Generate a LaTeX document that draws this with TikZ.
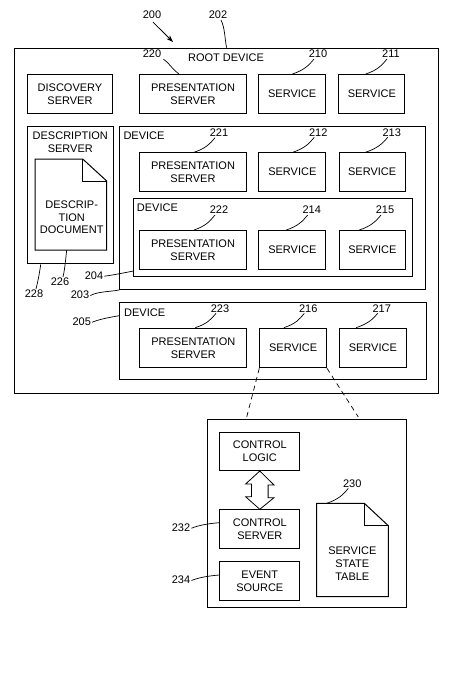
\documentclass[tikz,border=0pt]{standalone}
\usepackage{fontspec}
\setmainfont{Liberation Sans}
\usetikzlibrary{arrows.meta}
\begin{document}
\begin{tikzpicture}[x=1pt,y=-1pt,
  box/.style={draw, line width=1pt, anchor=north west, inner sep=0pt, align=center, font=\fontsize{11}{13}\selectfont},
  lbl/.style={inner sep=0pt, font=\fontsize{11}{12.5}\selectfont},
  lead/.style={line width=0.7pt},
  docshape/.style={draw, line width=1pt, line join=miter}]
\useasboundingbox (0,0) rectangle (474,675);

% root
\node[box, minimum width=424.2pt, minimum height=345pt] (root) at (13.5,47.7) {};
\node[lbl] (roottxt) at (226,58) {ROOT DEVICE};
\node[lbl] (l200) at (152,15) {200};
\node[lbl] (l202) at (218,15) {202};
\coordinate (a200) at (173,42);
\draw[line width=0.8pt, -{Stealth[length=7pt,width=5pt]}] (l200.south) ++(1,3) -- (a200);
\draw[lead] ([xshift=3pt,yshift=-1pt]l202.south) .. controls +(4,8) and +(-2,-10) .. ([xshift=0.5pt]root.north);

\node[box, minimum width=85.6pt, minimum height=38.7pt] (disc) at (26.7,74) {DISCOVERY\\SERVER};
\node[box, minimum width=106.4pt, minimum height=38.7pt] (p220) at (139.3,74) {PRESENTATION\\SERVER};
\node[box, minimum width=66.7pt, minimum height=38.7pt] (s210) at (258.3,74) {SERVICE};
\node[box, minimum width=66pt, minimum height=38.7pt] (s211) at (338.3,74) {SERVICE};
\node[lbl] (l220) at (152,54) {220};
\node[lbl] (l210) at (318,54) {210};
\node[lbl] (l211) at (391,54) {211};
\draw[lead] ([xshift=2pt,yshift=-1pt]l220.south east) .. controls +(6,4) and +(-8,-6) .. ([xshift=-14pt]p220.north);
\draw[lead] ([xshift=-4pt,yshift=-1pt]l210.south) .. controls +(-5,6) and +(12,-4) .. ([xshift=0.3pt]s210.north);
\draw[lead] ([xshift=-4pt,yshift=-1pt]l211.south) .. controls +(-5,6) and +(12,-4) .. ([xshift=-6pt]s211.north);

% description server
\node[box, minimum width=86pt, minimum height=137.3pt] (desc) at (27.3,126) {};
\node[lbl, align=center, font=\fontsize{11}{13}\selectfont] (desctxt) at (70.3,142.5) {DESCRIPTION\\SERVER};
\coordinate (d1) at (35,159);
\draw[docshape] (d1) -- (82.7,159) -- (106.7,181) -- (106.7,250) -- (35,250) -- cycle;
\draw[docshape] (82.7,159) -- (82.7,181) -- (106.7,181);
\node[lbl, align=center, font=\fontsize{11}{12.5}\selectfont] (doctxt) at (71.7,217.5) {DESCRIP-\\TION\\DOCUMENT};
\coordinate (docbot) at (66.7,250);
\node[lbl] (l226) at (60,282) {226};
\node[lbl] (l228) at (34,294) {228};
\draw[lead] ([xshift=3pt,yshift=1pt]l226.north) .. controls +(2,-8) and +(-1,8) .. (docbot);
\draw[lead] ([xshift=2pt,yshift=1pt]l228.north) .. controls +(2,-8) and +(-1,8) .. ([xshift=13.4pt]desc.south west);

% device 203
\node[box, minimum width=305.7pt, minimum height=163pt] (d203) at (119.3,126) {};
\node[lbl, anchor=west] (d203txt) at (123.3,135.7) {DEVICE};
\node[box, minimum width=106.4pt, minimum height=38.7pt] (p221) at (139.3,152.3) {PRESENTATION\\SERVER};
\node[box, minimum width=67pt, minimum height=38.7pt] (s212) at (258.3,152.3) {SERVICE};
\node[box, minimum width=66pt, minimum height=38.7pt] (s213) at (338.7,152.3) {SERVICE};
\node[lbl] (l221) at (219,132.7) {221};
\node[lbl] (l212) at (318.3,132.3) {212};
\node[lbl] (l213) at (391.7,132.3) {213};
\draw[lead] ([xshift=-4pt,yshift=-1pt]l221.south) .. controls +(-5,6) and +(12,-4) .. ([xshift=1pt]p221.north);
\draw[lead] ([xshift=-4pt,yshift=-1pt]l212.south) .. controls +(-5,6) and +(12,-4) .. ([xshift=0.5pt]s212.north);
\draw[lead] ([xshift=-4pt,yshift=-1pt]l213.south) .. controls +(-5,6) and +(12,-4) .. ([xshift=-6.7pt]s213.north);

% device 204
\node[box, minimum width=278.4pt, minimum height=78.3pt] (d204) at (133.3,197.7) {};
\node[lbl, anchor=west] (d204txt) at (136.7,207.3) {DEVICE};
\node[box, minimum width=106.4pt, minimum height=39.3pt] (p222) at (139.3,230) {PRESENTATION\\SERVER};
\node[box, minimum width=67pt, minimum height=39.3pt] (s214) at (258.3,230) {SERVICE};
\node[box, minimum width=66.3pt, minimum height=39.3pt] (s215) at (338.7,230) {SERVICE};
\node[lbl] (l222) at (219,210) {222};
\node[lbl] (l214) at (311.7,210) {214};
\node[lbl] (l215) at (385,210) {215};
\draw[lead] ([xshift=-4pt,yshift=-1pt]l222.south) .. controls +(-5,6) and +(12,-4) .. ([xshift=1pt]p222.north);
\draw[lead] ([xshift=-4pt,yshift=-1pt]l214.south) .. controls +(-5,6) and +(12,-4) .. ([xshift=-6pt]s214.north);
\draw[lead] ([xshift=-4pt,yshift=-1pt]l215.south) .. controls +(-5,6) and +(12,-4) .. ([xshift=-13pt]s215.north);

\node[lbl] (l204) at (94,275.7) {204};
\node[lbl] (l203) at (80,295) {203};
\draw[lead] ([xshift=1pt,yshift=-0.5pt]l204.east) .. controls +(8,-1) and +(-10,2) .. ([yshift=6pt]d204.south west);
\draw[lead] ([xshift=1pt,yshift=-0.5pt]l203.east) .. controls +(8,-4) and +(-12,2) .. (d203.south west);

% device 205
\node[box, minimum width=306.4pt, minimum height=77pt] (d205) at (119.3,302.3) {};
\node[lbl, anchor=west] (d205txt) at (124,312.3) {DEVICE};
\node[box, minimum width=107pt, minimum height=39.6pt] (p223) at (139.3,327.7) {PRESENTATION\\SERVER};
\node[box, minimum width=66.7pt, minimum height=39.6pt] (s216) at (259.3,327.7) {SERVICE};
\node[box, minimum width=66.7pt, minimum height=39.6pt] (s217) at (339,327.7) {SERVICE};
\node[lbl] (l223) at (220,308.3) {223};
\node[lbl] (l216) at (308.3,308.3) {216};
\node[lbl] (l217) at (381.7,308.3) {217};
\node[lbl] (l205) at (81.7,321.7) {205};
\draw[lead] ([xshift=-4pt,yshift=-1pt]l223.south) .. controls +(-5,6) and +(12,-4) .. ([xshift=2pt]p223.north);
\draw[lead] ([xshift=-4pt,yshift=-1pt]l216.south) .. controls +(-5,6) and +(12,-4) .. ([xshift=-9.3pt]s216.north);
\draw[lead] ([xshift=-4pt,yshift=-1pt]l217.south) .. controls +(-5,6) and +(12,-4) .. ([xshift=-16.8pt]s217.north);
\draw[lead] ([xshift=1pt,yshift=-0.5pt]l205.east) .. controls +(8,-3) and +(-12,2) .. ([yshift=-13.4pt]d205.north west);

% detail box
\node[box, minimum width=199pt, minimum height=187.7pt] (det) at (206.7,419) {};
\coordinate (dl) at (246.7,417);
\coordinate (dr) at (358.3,417);
\draw[line width=0.7pt, dash pattern=on 5pt off 4pt] (s216.south west) -- (dl);
\draw[line width=0.7pt, dash pattern=on 5pt off 4pt] (s216.south east) -- (dr);

\node[box, minimum width=80pt, minimum height=38.3pt] (clog) at (219.3,431.7) {CONTROL\\LOGIC};
\node[box, minimum width=80pt, minimum height=39pt] (csrv) at (219.3,509.3) {CONTROL\\SERVER};
\node[box, minimum width=80pt, minimum height=39pt] (esrc) at (219.3,561) {EVENT\\SOURCE};
\draw[line width=0.8pt, line join=miter] (clog.south) -- ++(14.2,14) -- ++(-5.9,0) -- ++(0,12.7) -- ++(5.9,0) -- (csrv.north) -- ++(-14.2,-12.6) -- ++(5.9,0) -- ++(0,-12.7) -- ++(-5.9,0) -- cycle;

\draw[docshape] (316.7,503.3) -- (364.3,503.3) -- (388.3,525.7) -- (388.3,596.7) -- (316.7,596.7) -- cycle;
\draw[docshape] (364.3,503.3) -- (364.3,525.7) -- (388.3,525.7);
\node[lbl, align=center, font=\fontsize{11}{12.8}\selectfont] (sst) at (352.3,563.8) {SERVICE\\STATE\\TABLE};
\coordinate (sstop) at (326.7,503.3);
\node[lbl] (l230) at (352.3,483.3) {230};
\node[lbl] (l232) at (181,527.7) {232};
\node[lbl] (l234) at (181,580) {234};
\draw[lead] ([xshift=-4pt,yshift=-1pt]l230.south) .. controls +(-5,6) and +(12,-4) .. (sstop);
\draw[lead] ([xshift=1pt,yshift=-0.5pt]l232.east) .. controls +(8,-3) and +(-12,1) .. ([yshift=-13.4pt]csrv.north west);
\draw[lead] ([xshift=1pt,yshift=-0.5pt]l234.east) .. controls +(8,-3) and +(-12,1) .. ([yshift=-14pt]esrc.north west);
\end{tikzpicture}
\end{document}
